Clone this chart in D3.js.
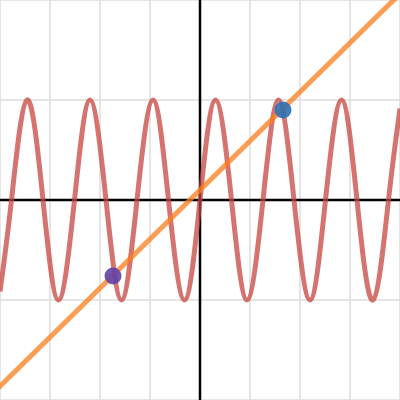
<!DOCTYPE html>
<html><head><meta charset="utf-8">
<script src="https://cdn.jsdelivr.net/npm/d3@7"></script>
<style>body{margin:0;background:#fff}</style></head>
<body><svg id="c" width="400" height="400"></svg>
<script>
const gridTicksX = [-4,-3,-2,-1,1,2,3,4];
const gridTicksY = [-4,-2,2,4];
const waveX = [-4,-3.77,-3.46,-3.14,-2.83,-2.51,-2.20,-1.88,-1.57,-1.26,-0.94,-0.63,-0.31,0,0.31,0.63,0.94,1.26,1.57,1.88,2.20,2.51,2.83,3.14,3.46,3.77,4];
const waveY = [-1.83,0,2,0,-2,0,2,0,-2,0,2,0,-2,0,2,0,-2,0,2,0,-2,0,2,0,-2,0,1.83];
const lineX = [-4.2,4.2];
const lineY = [-3.92,4.32];
const pointX = [1.66,-1.74];
const pointY = [1.8,-1.52];
const pointColors = ["#2d70b3","#6042a6"];

const svg = d3.select("#c");
const x = d3.scaleLinear().domain([-4,4]).range([0,400]);
const y = d3.scaleLinear().domain([-4,4]).range([400,0]);

svg.selectAll(".gx").data(gridTicksX).join("line")
  .attr("x1",d=>x(d)).attr("x2",d=>x(d)).attr("y1",0).attr("y2",400)
  .attr("stroke","#ddd").attr("stroke-width",1.5);
svg.selectAll(".gy").data(gridTicksY).join("line")
  .attr("y1",d=>y(d)).attr("y2",d=>y(d)).attr("x1",0).attr("x2",400)
  .attr("stroke","#ddd").attr("stroke-width",1.5);
svg.append("line").attr("x1",x(0)).attr("x2",x(0)).attr("y1",0).attr("y2",400).attr("stroke","#000").attr("stroke-width",2.5);
svg.append("line").attr("y1",y(0)).attr("y2",y(0)).attr("x1",0).attr("x2",400).attr("stroke","#000").attr("stroke-width",2.5);

const wave = waveX.map((v,i)=>[v,waveY[i]]);
svg.append("path").attr("d",d3.line().x(d=>x(d[0])).y(d=>y(d[1])).curve(d3.curveNatural)(wave))
  .attr("fill","none").attr("stroke","#c74440").attr("stroke-opacity",0.75).attr("stroke-width",5);

const ln = lineX.map((v,i)=>[v,lineY[i]]);
svg.append("path").attr("d",d3.line().x(d=>x(d[0])).y(d=>y(d[1]))(ln))
  .attr("fill","none").attr("stroke","#fa7e19").attr("stroke-opacity",0.75).attr("stroke-width",5);

svg.selectAll(".pt").data(pointX).join("circle")
  .attr("cx",d=>x(d)).attr("cy",(d,i)=>y(pointY[i])).attr("r",8.5)
  .attr("fill",(d,i)=>pointColors[i]).attr("fill-opacity",0.9);
</script></body></html>
